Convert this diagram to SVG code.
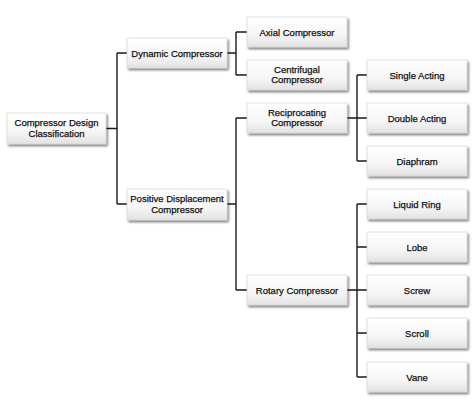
<svg xmlns="http://www.w3.org/2000/svg" width="474" height="408" viewBox="0 0 474 408">
<defs>
<linearGradient id="g" x1="0" y1="0" x2="0" y2="1">
<stop offset="0" stop-color="#ffffff"/>
<stop offset="0.6" stop-color="#f6f6f6"/>
<stop offset="1" stop-color="#e2e2e2"/>
</linearGradient>
<filter id="sh" x="-10%" y="-20%" width="125%" height="150%">
<feDropShadow dx="1.5" dy="2" stdDeviation="1.3" flood-color="#000" flood-opacity="0.5"/>
</filter>
</defs>
<style>
.b{fill:url(#g);stroke:#cfcfcf;stroke-width:0.6;filter:url(#sh)}
.t{font-family:"Liberation Sans",Arial,sans-serif;font-size:9.5px;fill:#111;stroke:#111;stroke-width:0.25;text-anchor:middle}
.c{fill:none;stroke:#1a1a1a;stroke-width:1.4}
</style>
<rect width="474" height="408" fill="#ffffff"/>
<g id="connectors">
<path class="c" d="M106,128.5H117M117,53V204M117,53H127M117,204H127"/>
<path class="c" d="M227,53H236M236,32V75M236,32H247M236,75H247"/>
<path class="c" d="M227,204H236M236,118V290M236,118H247M236,290H247"/>
<path class="c" d="M347,118H367M357,75V161M357,75H367M357,161H367"/>
<path class="c" d="M347,290H367M357,204V377M357,204H367M357,247H367M357,333H367M357,377H367"/>
</g>
<g id="root"><rect class="b" x="7" y="113" width="99" height="31"/><text class="t" x="56.5" y="126">Compressor Design</text><text class="t" x="56.5" y="137">Classification</text></g>
<g id="dynamic"><rect class="b" x="127" y="38" width="100" height="30"/><text class="t" x="177" y="56.5">Dynamic Compressor</text></g>
<g id="positive"><rect class="b" x="127" y="189" width="100" height="31"/><text class="t" x="177" y="202">Positive Displacement</text><text class="t" x="177" y="213">Compressor</text></g>
<g id="axial"><rect class="b" x="247" y="17" width="100" height="30"/><text class="t" x="297" y="35.5">Axial Compressor</text></g>
<g id="centrifugal"><rect class="b" x="247" y="60" width="100" height="30"/><text class="t" x="297" y="72.5">Centrifugal</text><text class="t" x="297" y="83">Compressor</text></g>
<g id="reciprocating"><rect class="b" x="247" y="103" width="100" height="30"/><text class="t" x="297" y="115.5">Reciprocating</text><text class="t" x="297" y="126">Compressor</text></g>
<g id="rotary"><rect class="b" x="247" y="275" width="100" height="30"/><text class="t" x="297" y="293.5">Rotary Compressor</text></g>
<g id="single"><rect class="b" x="367" y="60" width="100" height="30"/><text class="t" x="417" y="78.5">Single Acting</text></g>
<g id="double"><rect class="b" x="367" y="103" width="100" height="30"/><text class="t" x="417" y="121.5">Double Acting</text></g>
<g id="diaphram"><rect class="b" x="367" y="146" width="100" height="30"/><text class="t" x="417" y="164.5">Diaphram</text></g>
<g id="liquid"><rect class="b" x="367" y="189" width="100" height="30"/><text class="t" x="417" y="207.5">Liquid Ring</text></g>
<g id="lobe"><rect class="b" x="367" y="232" width="100" height="30"/><text class="t" x="417" y="250.5">Lobe</text></g>
<g id="screw"><rect class="b" x="367" y="275" width="100" height="30"/><text class="t" x="417" y="293.5">Screw</text></g>
<g id="scroll"><rect class="b" x="367" y="318" width="100" height="30"/><text class="t" x="417" y="336.5">Scroll</text></g>
<g id="vane"><rect class="b" x="367" y="362" width="100" height="30"/><text class="t" x="417" y="380.5">Vane</text></g>
</svg>
